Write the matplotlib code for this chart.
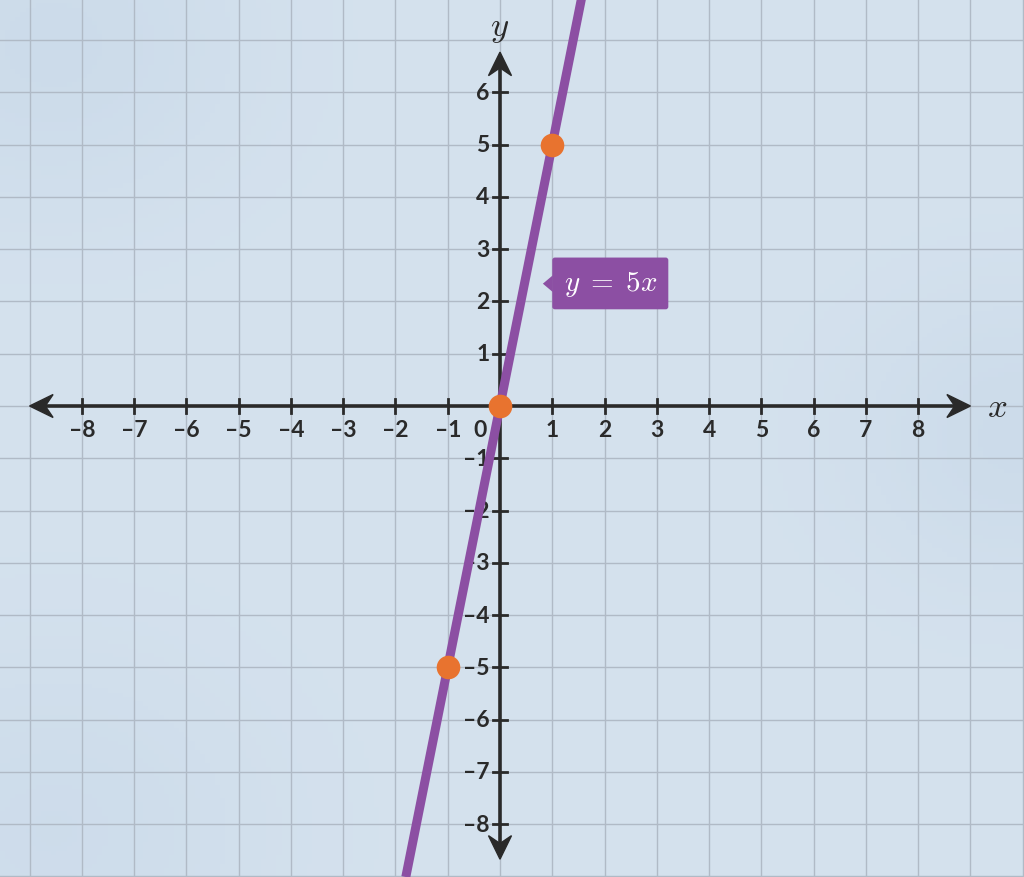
import numpy as np
import matplotlib
matplotlib.use('Agg')
import matplotlib.pyplot as plt
from matplotlib.patches import Polygon, FancyBboxPatch

plt.rcParams['mathtext.fontset'] = 'cm'

# data
slope = 5
points_x = [-1, 0, 1]
points_y = [-5, 0, 5]
x_ticks = [-8, -7, -6, -5, -4, -3, -2, -1, 1, 2, 3, 4, 5, 6, 7, 8]
y_ticks = [-8, -7, -6, -5, -4, -3, -2, -1, 1, 2, 3, 4, 5, 6]
line_label = r'$y\;=\;5x$'

purple = '#8C4FA3'
orange = '#E8732F'
axis_col = '#2A2A2A'
grid_col = '#B0BAC6'
tick_font = dict(fontsize=16.5, fontweight='bold', family=['Lato', 'DejaVu Sans'],
                 color=axis_col, zorder=3)

unit = 52.27
xlim = (-500 / unit, 524 / unit)
ylim = (-(878 - 407) / unit, 407 / unit)

fig = plt.figure(figsize=(10.24, 8.78), dpi=100)
ax = fig.add_axes([0, 0, 1, 1])
ax.set_xlim(xlim)
ax.set_ylim(ylim)
ax.axis('off')

# soft background shading
gx, gy = np.meshgrid(np.linspace(0, 1, 200), np.linspace(0, 1, 200))
shade = (0.5 * np.exp(-((gx - 0.05) ** 2 + (gy - 0.95) ** 2) / 0.05)
         + 0.6 * np.exp(-((gx - 0.05) ** 2 + (gy - 0.05) ** 2) / 0.04)
         + 0.6 * np.exp(-((gx - 1.0) ** 2 + (gy - 0.5) ** 2) / 0.03))
base = np.array([0.835, 0.886, 0.933])
dark = np.array([0.78, 0.845, 0.91])
img = base[None, None, :] * (1 - shade[..., None]) + dark[None, None, :] * shade[..., None]
ax.imshow(np.clip(img, 0, 1), extent=[xlim[0], xlim[1], ylim[0], ylim[1]],
          origin='upper', aspect='auto', zorder=0)

# grid
for gxv in range(-9, 11):
    ax.axvline(gxv, color=grid_col, lw=1.0, zorder=1)
for gyv in range(-9, 8):
    ax.axhline(gyv, color=grid_col, lw=1.0, zorder=1)

# axes lines
ax_lw = 2.6
x_end, y_top, y_bot = 9.0, 6.77, -8.67
ax.plot([-x_end + 0.3, x_end - 0.3], [0, 0], color=axis_col, lw=ax_lw, zorder=2)
ax.plot([0, 0], [y_bot + 0.3, y_top - 0.3], color=axis_col, lw=ax_lw, zorder=2)


def arrow_head(tip, direction):
    L, W, notch = 0.45, 0.22, 0.3
    d = np.array(direction, float)
    n = np.array([-d[1], d[0]])
    t = np.array(tip, float)
    pts = [t, t - L * d + W * n, t - notch * d, t - L * d - W * n]
    ax.add_patch(Polygon(pts, closed=True, color=axis_col, zorder=2))


arrow_head((x_end, 0), (1, 0))
arrow_head((-x_end, 0), (-1, 0))
arrow_head((0, y_top), (0, 1))
arrow_head((0, y_bot), (0, -1))

# ticks
tk = 0.13
for t in x_ticks:
    ax.plot([t, t], [-tk, tk], color=axis_col, lw=2, zorder=2)
    ax.text(t, -0.45, f'{t}'.replace('-', '\u2013'), ha='center', va='center', **tick_font)
for t in y_ticks:
    ax.plot([-tk, tk], [t, t], color=axis_col, lw=2, zorder=2)
    ax.text(-0.2, t, f'{t}'.replace('-', '\u2013'), ha='right', va='center', **tick_font)
ax.text(-0.38, -0.45, '0', ha='center', va='center', **tick_font)

ax.text(9.52, 0.0, r'$x$', fontsize=25, ha='center', va='center', color=axis_col)
ax.text(0.0, 7.25, r'$y$', fontsize=25, ha='center', va='center', color=axis_col)

# the line and points
lx = np.array([ylim[0] / slope, ylim[1] / slope])
ax.plot(lx, slope * lx, color=purple, lw=6.5, solid_capstyle='butt', zorder=4)
ax.plot(points_x, points_y, 'o', color=orange, markersize=17, mec='none', zorder=5)

# label box
bx0, bx1, by0, by1 = 1.0, 3.22, 1.85, 2.84
ax.add_patch(FancyBboxPatch((bx0, by0), bx1 - bx0, by1 - by0,
                            boxstyle='round,pad=0,rounding_size=0.05',
                            fc=purple, ec='none', zorder=6))
ax.add_patch(Polygon([(bx0 + 0.01, 2.5), (0.82, 2.34), (bx0 + 0.01, 2.18)],
                     closed=True, fc=purple, ec='none', zorder=6))
ax.text((bx0 + bx1) / 2, (by0 + by1) / 2, line_label, color='white',
        fontsize=21, ha='center', va='center', zorder=7)

fig.savefig('out.png', dpi=100)
